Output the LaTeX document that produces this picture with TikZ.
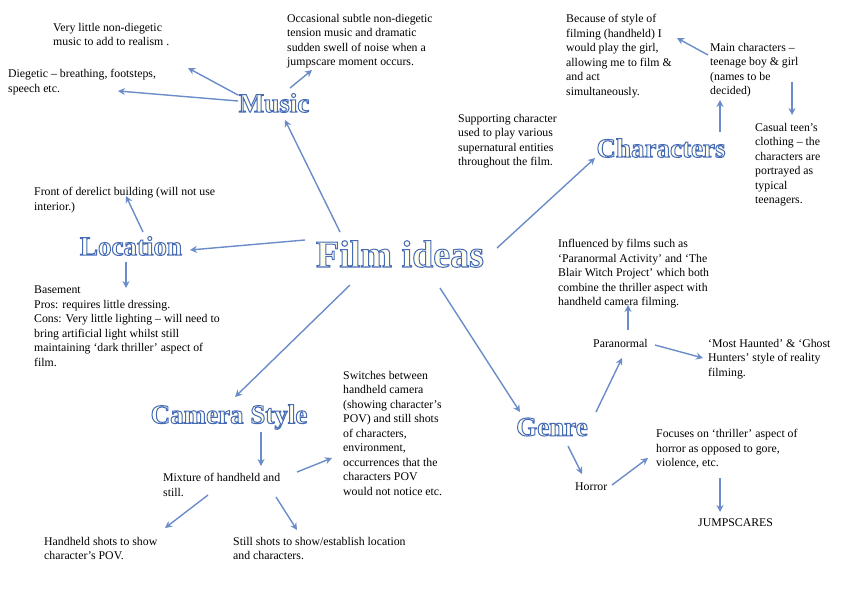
\documentclass[tikz,border=0pt]{standalone}
\usepackage{fontspec}
\setmainfont{Liberation Serif}
\usetikzlibrary{arrows.meta,calc}
\definecolor{hb}{HTML}{4A6FB5}
\definecolor{ar}{HTML}{6A8CC8}
\newcommand{\hd}[1]{\special{pdf:literal direct 2 Tr 1 w 0.27 0.42 0.72 RG}#1\special{pdf:literal direct 0 Tr}}
\newcommand{\myarr}[6]{\draw[arr] ($(#1)+(#2,#3)$) -- ($(#4)+(#5,#6)$);}
\begin{document}
\begin{tikzpicture}[x=1pt,y=-1pt,
 txt/.style={anchor=north west,align=left,font=\fontsize{11.8}{14.5}\selectfont,inner sep=1pt},
 head/.style={font=\bfseries\fontsize{#1}{#1}\selectfont,text=white!92!yellow,inner sep=2pt},
 arr/.style={draw=ar,line width=1.4pt,-{Stealth[length=7pt,width=7pt]}}]
\useasboundingbox (0,0) rectangle (842,594);
% headings
\node[head=38] (film) at (400,254) {\hd{Film ideas}};
\node[head=27] (music) at (274,103) {\hd{Music}};
\node[head=27] (chars) at (661,148) {\hd{Characters}};
\node[head=27] (loc) at (131,246) {\hd{Location}};
\node[head=27] (cam) at (229,417) {\hd{Camera Style}};
\node[head=27] (genre) at (552,427) {\hd{Genre}};
% texts
\node[txt] (t1) at (52,22) {Very little non-diegetic\\music to add to realism .};
\node[txt] (t2) at (7,68) {Diegetic -- breathing, footsteps,\\speech etc.};
\node[txt] (t3) at (286,13) {Occasional subtle non-diegetic\\tension music and dramatic\\sudden swell of noise when a\\jumpscare moment occurs.};
\node[txt] (because) at (565,13) {Because of style of\\filming (handheld) I\\would play the girl,\\allowing me to film \&\\and act\\simultaneously.};
\node[txt] (main) at (709,42) {Main characters --\\teenage boy \& girl\\(names to be\\decided)};
\node[txt] (casual) at (754,122) {Casual teen’s\\clothing -- the\\characters are\\portrayed as\\typical\\teenagers.};
\node[txt] (support) at (457,113) {Supporting character\\used to play various\\supernatural entities\\throughout the film.};
\node[txt] (front) at (33,186) {Front of derelict building (will not use\\interior.)};
\node[txt] (base) at (33,285) {Basement\\Pros: requires little dressing.\\Cons: Very little lighting -- will need to\\bring artificial light whilst still\\maintaining ‘dark thriller’ aspect of\\film.};
\node[txt] (infl) at (557,238) {Influenced by films such as\\‘Paranormal Activity’ and ‘The\\Blair Witch Project’ which both\\combine the thriller aspect with\\handheld camera filming.};
\node[txt] (para) at (592,338) {Paranormal};
\node[txt] (most) at (707,338) {‘Most Haunted’ \& ‘Ghost\\Hunters’ style of reality\\filming.};
\node[txt] (sw) at (342,370) {Switches between\\handheld camera\\(showing character’s\\POV) and still shots\\of characters,\\environment,\\occurrences that the\\characters POV\\would not notice etc.};
\node[txt] (mix) at (162,472) {Mixture of handheld and\\still.};
\node[txt] (hh) at (43,536) {Handheld shots to show\\character’s POV.};
\node[txt] (still) at (232,536) {Still shots to show/establish location\\and characters.};
\node[txt] (horror) at (574,482) {Horror};
\node[txt] (foc) at (655,428) {Focuses on ‘thriller’ aspect of\\horror as opposed to gore,\\violence, etc.};
\node[txt] (jump) at (697,517) {JUMPSCARES};
% arrows
\myarr{music}{-36}{-8}{t1.north west}{136}{46}
\myarr{music}{-36}{-2}{t2.north west}{111}{23}
\myarr{music}{16}{-15}{t3.north west}{26}{57}
\myarr{film}{-60}{-22}{music}{11}{17}
\myarr{film}{-95}{-14}{loc}{59}{4}
\myarr{loc}{12}{-14}{front.north west}{93}{10}
\myarr{loc}{-5}{16}{base.north west}{93}{3}
\myarr{film}{97}{-6}{chars}{-66}{10}
\myarr{chars}{59}{-16}{main.north west}{11}{58}
\myarr{main.north west}{-1}{13}{because.north west}{112}{25}
\myarr{main.north west}{83}{40}{casual.north west}{38}{-7}
\myarr{film}{-50}{31}{cam}{6}{-20}
\myarr{cam}{32}{15}{mix.north west}{99}{-6}
\myarr{mix.north west}{135}{0}{sw.north west}{-10}{88}
\myarr{mix.north west}{46}{23}{hh.north west}{122}{-8}
\myarr{mix.north west}{114}{25}{still.north west}{65}{-6}
\myarr{film}{40}{34}{genre}{-32}{-15}
\myarr{genre}{16}{19}{horror.north west}{8}{-8}
\myarr{genre}{44}{-15}{para.north west}{30}{20}
\myarr{para.north west}{36}{-8}{infl.north west}{71}{67}
\myarr{para.north west}{63}{7}{most.north west}{-4}{20}
\myarr{horror.north west}{38}{3}{foc.north west}{-7}{30}
\myarr{foc.north west}{65}{50}{jump.north west}{23}{-5}
\end{tikzpicture}
\end{document}
